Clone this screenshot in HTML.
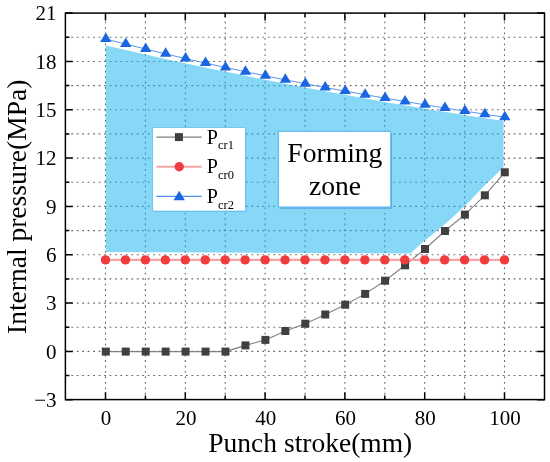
<!DOCTYPE html>
<html><head><meta charset="utf-8"><style>html,body{margin:0;padding:0;background:#fff;width:550px;height:462px;overflow:hidden}svg{display:block}</style></head>
<body><svg width="550" height="462" viewBox="0 0 550 462">
<rect width="550" height="462" fill="#fff"/>
<path d="M105.50 13.10V399.60M145.40 13.10V399.60M185.30 13.10V399.60M225.20 13.10V399.60M265.10 13.10V399.60M305.00 13.10V399.60M344.90 13.10V399.60M384.80 13.10V399.60M424.70 13.10V399.60M464.60 13.10V399.60M504.50 13.10V399.60" stroke="#6a6a6a" stroke-width="1.1" stroke-dasharray="1.8 3.66" stroke-dashoffset="-3.0" fill="none"/>
<path d="M65.40 375.57H544.50M65.40 351.41H544.50M65.40 327.25H544.50M65.40 303.08H544.50M65.40 278.92H544.50M65.40 254.75H544.50M65.40 230.58H544.50M65.40 206.42H544.50M65.40 182.25H544.50M65.40 158.09H544.50M65.40 133.92H544.50M65.40 109.76H544.50M65.40 85.59H544.50M65.40 61.43H544.50M65.40 37.27H544.50" stroke="#6a6a6a" stroke-width="1.1" stroke-dasharray="1.8 3.66" stroke-dashoffset="-5.9" fill="none"/>
<polygon fill="#1cb3ee" fill-opacity="0.53" points="105.80,45.55 122.37,49.35 138.94,53.10 155.51,56.78 172.08,60.41 188.65,63.98 205.22,67.50 221.80,70.96 238.37,74.36 254.94,77.70 271.51,80.99 288.08,84.21 304.65,87.39 321.22,90.50 337.79,93.56 354.36,96.56 370.93,99.50 387.50,102.39 404.07,105.22 420.65,107.99 437.22,110.71 453.79,113.36 470.36,115.96 486.93,118.51 503.50,121.00 503.50,167.00 494.00,176.50 484.50,185.50 475.00,195.40 470.00,201.00 460.00,210.50 450.00,219.80 440.00,228.30 430.00,236.40 420.00,244.60 410.50,253.40 105.80,252.00"/>
<path d="M105.50 399.60v-7.3M105.50 13.10v7.3M145.40 399.60v-4.0M145.40 13.10v4.0M185.30 399.60v-7.3M185.30 13.10v7.3M225.20 399.60v-4.0M225.20 13.10v4.0M265.10 399.60v-7.3M265.10 13.10v7.3M305.00 399.60v-4.0M305.00 13.10v4.0M344.90 399.60v-7.3M344.90 13.10v7.3M384.80 399.60v-4.0M384.80 13.10v4.0M424.70 399.60v-7.3M424.70 13.10v7.3M464.60 399.60v-4.0M464.60 13.10v4.0M504.50 399.60v-7.3M504.50 13.10v7.3M65.40 399.74h7.3M544.50 399.74h-7.3M65.40 375.57h4.0M544.50 375.57h-4.0M65.40 351.41h7.3M544.50 351.41h-7.3M65.40 327.25h4.0M544.50 327.25h-4.0M65.40 303.08h7.3M544.50 303.08h-7.3M65.40 278.92h4.0M544.50 278.92h-4.0M65.40 254.75h7.3M544.50 254.75h-7.3M65.40 230.58h4.0M544.50 230.58h-4.0M65.40 206.42h7.3M544.50 206.42h-7.3M65.40 182.25h4.0M544.50 182.25h-4.0M65.40 158.09h7.3M544.50 158.09h-7.3M65.40 133.92h4.0M544.50 133.92h-4.0M65.40 109.76h7.3M544.50 109.76h-7.3M65.40 85.59h4.0M544.50 85.59h-4.0M65.40 61.43h7.3M544.50 61.43h-7.3M65.40 37.27h4.0M544.50 37.27h-4.0M65.40 13.10h7.3M544.50 13.10h-7.3" stroke="#000" stroke-width="1.5" fill="none"/>
<rect x="65.4" y="13.1" width="479.10" height="386.50" fill="none" stroke="#000" stroke-width="1.5"/>
<polyline fill="none" stroke="#808080" stroke-width="1.1" points="105.80,351.60 125.75,351.60 145.70,351.60 165.65,351.60 185.60,351.60 205.55,351.60 225.50,351.60 245.45,345.40 265.40,339.90 285.35,331.00 305.30,323.70 325.25,314.50 345.20,304.70 365.15,293.90 385.10,280.70 405.05,265.30 425.00,249.00 444.95,231.00 464.90,214.60 484.85,195.30 504.80,172.30"/>
<polyline fill="none" stroke="#f6a4a4" stroke-width="2.1" points="105.50,259.90 125.45,259.90 145.40,259.90 165.35,259.90 185.30,259.90 205.25,259.90 225.20,259.90 245.15,259.90 265.10,259.90 285.05,259.90 305.00,259.90 324.95,259.90 344.90,259.90 364.85,259.90 384.80,259.90 404.75,259.90 424.70,259.90 444.65,259.90 464.60,259.90 484.55,259.90 504.50,259.90"/>
<polyline fill="none" stroke="#5c96f0" stroke-width="1.0" points="105.80,38.97 125.75,44.11 145.70,49.09 165.65,53.91 185.60,58.57 205.55,63.10 225.50,67.48 245.45,71.72 265.40,75.84 285.35,79.83 305.30,83.70 325.25,87.47 345.20,91.12 365.15,94.68 385.10,98.14 405.05,101.51 425.00,104.80 444.95,108.00 464.90,111.14 484.85,114.21 504.80,117.22"/>
<rect x="101.80" y="347.60" width="8.0" height="8.0" fill="#404040"/>
<rect x="121.75" y="347.60" width="8.0" height="8.0" fill="#404040"/>
<rect x="141.70" y="347.60" width="8.0" height="8.0" fill="#404040"/>
<rect x="161.65" y="347.60" width="8.0" height="8.0" fill="#404040"/>
<rect x="181.60" y="347.60" width="8.0" height="8.0" fill="#404040"/>
<rect x="201.55" y="347.60" width="8.0" height="8.0" fill="#404040"/>
<rect x="221.50" y="347.60" width="8.0" height="8.0" fill="#404040"/>
<rect x="241.45" y="341.40" width="8.0" height="8.0" fill="#404040"/>
<rect x="261.40" y="335.90" width="8.0" height="8.0" fill="#404040"/>
<rect x="281.35" y="327.00" width="8.0" height="8.0" fill="#404040"/>
<rect x="301.30" y="319.70" width="8.0" height="8.0" fill="#404040"/>
<rect x="321.25" y="310.50" width="8.0" height="8.0" fill="#404040"/>
<rect x="341.20" y="300.70" width="8.0" height="8.0" fill="#404040"/>
<rect x="361.15" y="289.90" width="8.0" height="8.0" fill="#404040"/>
<rect x="381.10" y="276.70" width="8.0" height="8.0" fill="#404040"/>
<rect x="401.05" y="261.30" width="8.0" height="8.0" fill="#404040"/>
<rect x="421.00" y="245.00" width="8.0" height="8.0" fill="#404040"/>
<rect x="440.95" y="227.00" width="8.0" height="8.0" fill="#404040"/>
<rect x="460.90" y="210.60" width="8.0" height="8.0" fill="#404040"/>
<rect x="480.85" y="191.30" width="8.0" height="8.0" fill="#404040"/>
<rect x="500.80" y="168.30" width="8.0" height="8.0" fill="#404040"/>
<circle cx="105.50" cy="259.9" r="4.7" fill="#f03c3c"/>
<circle cx="125.45" cy="259.9" r="4.7" fill="#f03c3c"/>
<circle cx="145.40" cy="259.9" r="4.7" fill="#f03c3c"/>
<circle cx="165.35" cy="259.9" r="4.7" fill="#f03c3c"/>
<circle cx="185.30" cy="259.9" r="4.7" fill="#f03c3c"/>
<circle cx="205.25" cy="259.9" r="4.7" fill="#f03c3c"/>
<circle cx="225.20" cy="259.9" r="4.7" fill="#f03c3c"/>
<circle cx="245.15" cy="259.9" r="4.7" fill="#f03c3c"/>
<circle cx="265.10" cy="259.9" r="4.7" fill="#f03c3c"/>
<circle cx="285.05" cy="259.9" r="4.7" fill="#f03c3c"/>
<circle cx="305.00" cy="259.9" r="4.7" fill="#f03c3c"/>
<circle cx="324.95" cy="259.9" r="4.7" fill="#f03c3c"/>
<circle cx="344.90" cy="259.9" r="4.7" fill="#f03c3c"/>
<circle cx="364.85" cy="259.9" r="4.7" fill="#f03c3c"/>
<circle cx="384.80" cy="259.9" r="4.7" fill="#f03c3c"/>
<circle cx="404.75" cy="259.9" r="4.7" fill="#f03c3c"/>
<circle cx="424.70" cy="259.9" r="4.7" fill="#f03c3c"/>
<circle cx="444.65" cy="259.9" r="4.7" fill="#f03c3c"/>
<circle cx="464.60" cy="259.9" r="4.7" fill="#f03c3c"/>
<circle cx="484.55" cy="259.9" r="4.7" fill="#f03c3c"/>
<circle cx="504.50" cy="259.9" r="4.7" fill="#f03c3c"/>
<polygon fill="#1a66e0" points="105.80,32.42 111.50,41.92 100.10,41.92"/>
<polygon fill="#1a66e0" points="125.75,37.56 131.45,47.06 120.05,47.06"/>
<polygon fill="#1a66e0" points="145.70,42.54 151.40,52.04 140.00,52.04"/>
<polygon fill="#1a66e0" points="165.65,47.36 171.35,56.86 159.95,56.86"/>
<polygon fill="#1a66e0" points="185.60,52.02 191.30,61.52 179.90,61.52"/>
<polygon fill="#1a66e0" points="205.55,56.55 211.25,66.05 199.85,66.05"/>
<polygon fill="#1a66e0" points="225.50,60.93 231.20,70.43 219.80,70.43"/>
<polygon fill="#1a66e0" points="245.45,65.17 251.15,74.67 239.75,74.67"/>
<polygon fill="#1a66e0" points="265.40,69.29 271.10,78.79 259.70,78.79"/>
<polygon fill="#1a66e0" points="285.35,73.28 291.05,82.78 279.65,82.78"/>
<polygon fill="#1a66e0" points="305.30,77.15 311.00,86.65 299.60,86.65"/>
<polygon fill="#1a66e0" points="325.25,80.92 330.95,90.42 319.55,90.42"/>
<polygon fill="#1a66e0" points="345.20,84.57 350.90,94.07 339.50,94.07"/>
<polygon fill="#1a66e0" points="365.15,88.13 370.85,97.63 359.45,97.63"/>
<polygon fill="#1a66e0" points="385.10,91.59 390.80,101.09 379.40,101.09"/>
<polygon fill="#1a66e0" points="405.05,94.96 410.75,104.46 399.35,104.46"/>
<polygon fill="#1a66e0" points="425.00,98.25 430.70,107.75 419.30,107.75"/>
<polygon fill="#1a66e0" points="444.95,101.45 450.65,110.95 439.25,110.95"/>
<polygon fill="#1a66e0" points="464.90,104.59 470.60,114.09 459.20,114.09"/>
<polygon fill="#1a66e0" points="484.85,107.66 490.55,117.16 479.15,117.16"/>
<polygon fill="#1a66e0" points="504.80,110.67 510.50,120.17 499.10,120.17"/>
<rect x="153.6" y="128.6" width="92.6" height="83.0" fill="#5fb0e4"/>
<rect x="152.3" y="127.3" width="93.5" height="84" fill="#6cc0ef"/>
<rect x="153.1" y="128.0" width="92.0" height="82.7" fill="#fff"/>
<line x1="156.4" y1="137.1" x2="201.7" y2="137.1" stroke="#808080" stroke-width="1.1"/>
<rect x="174.90" y="133.10" width="8.0" height="8.0" fill="#404040"/>
<line x1="156.4" y1="166.7" x2="201.7" y2="166.7" stroke="#f6a4a4" stroke-width="2.1"/>
<circle cx="179.2" cy="166.7" r="4.7" fill="#f03c3c"/>
<line x1="156.4" y1="196.4" x2="201.7" y2="196.4" stroke="#5090f0" stroke-width="1.3"/>
<polygon fill="#1a66e0" points="179.20,190.65 184.90,200.15 173.50,200.15"/>
<text x="206.8" y="143.9" style="font-family:'Liberation Serif','Times New Roman',serif;font-size:20px">P<tspan dy="5.3" style="font-size:12.5px">cr1</tspan></text>
<text x="206.8" y="173.4" style="font-family:'Liberation Serif','Times New Roman',serif;font-size:20px">P<tspan dy="5.3" style="font-size:12.5px">cr0</tspan></text>
<text x="206.8" y="203.3" style="font-family:'Liberation Serif','Times New Roman',serif;font-size:20px">P<tspan dy="5.3" style="font-size:12.5px">cr2</tspan></text>
<rect x="279.6" y="133.2" width="112.4" height="75.6" fill="#5aaae2"/>
<rect x="277.6" y="130.6" width="113.4" height="77.0" fill="#6cc0ef"/>
<rect x="279.1" y="132.0" width="111.0" height="74.4" fill="#fff"/>
<text x="334.9" y="162.4" text-anchor="middle" style="font-family:'Liberation Serif','Times New Roman',serif;font-size:27.6px">Forming</text>
<text x="335.0" y="194.6" text-anchor="middle" style="font-family:'Liberation Serif','Times New Roman',serif;font-size:27.6px">zone</text>
<text x="106.10" y="424.6" text-anchor="middle" style="font-family:'Liberation Serif','Times New Roman',serif;font-size:21px">0</text>
<text x="185.90" y="424.6" text-anchor="middle" style="font-family:'Liberation Serif','Times New Roman',serif;font-size:21px">20</text>
<text x="265.70" y="424.6" text-anchor="middle" style="font-family:'Liberation Serif','Times New Roman',serif;font-size:21px">40</text>
<text x="345.50" y="424.6" text-anchor="middle" style="font-family:'Liberation Serif','Times New Roman',serif;font-size:21px">60</text>
<text x="425.30" y="424.6" text-anchor="middle" style="font-family:'Liberation Serif','Times New Roman',serif;font-size:21px">80</text>
<text x="505.10" y="424.6" text-anchor="middle" style="font-family:'Liberation Serif','Times New Roman',serif;font-size:21px">100</text>
<text x="56.6" y="406.84" text-anchor="end" style="font-family:'Liberation Serif','Times New Roman',serif;font-size:21px">−3</text>
<text x="56.6" y="358.51" text-anchor="end" style="font-family:'Liberation Serif','Times New Roman',serif;font-size:21px">0</text>
<text x="56.6" y="310.18" text-anchor="end" style="font-family:'Liberation Serif','Times New Roman',serif;font-size:21px">3</text>
<text x="56.6" y="261.85" text-anchor="end" style="font-family:'Liberation Serif','Times New Roman',serif;font-size:21px">6</text>
<text x="56.6" y="213.52" text-anchor="end" style="font-family:'Liberation Serif','Times New Roman',serif;font-size:21px">9</text>
<text x="56.6" y="165.19" text-anchor="end" style="font-family:'Liberation Serif','Times New Roman',serif;font-size:21px">12</text>
<text x="56.6" y="116.86" text-anchor="end" style="font-family:'Liberation Serif','Times New Roman',serif;font-size:21px">15</text>
<text x="56.6" y="68.53" text-anchor="end" style="font-family:'Liberation Serif','Times New Roman',serif;font-size:21px">18</text>
<text x="56.6" y="20.20" text-anchor="end" style="font-family:'Liberation Serif','Times New Roman',serif;font-size:21px">21</text>
<text x="310.3" y="452.3" text-anchor="middle" style="font-family:'Liberation Serif','Times New Roman',serif;font-size:27.5px">Punch stroke(mm)</text>
<text transform="translate(25.5,206.8) rotate(-90)" x="0" y="0" text-anchor="middle" style="font-family:'Liberation Serif','Times New Roman',serif;font-size:27.5px">Internal pressure(MPa)</text>
</svg></body></html>
